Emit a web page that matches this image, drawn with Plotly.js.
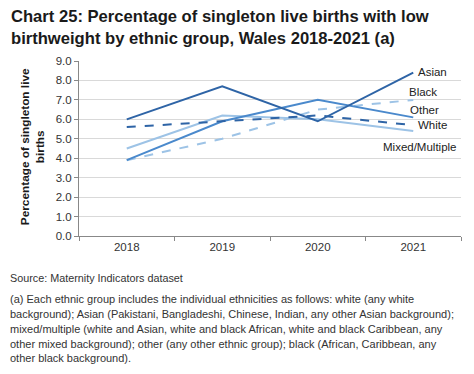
<!DOCTYPE html>
<html>
<head>
<meta charset="utf-8">
<script src="https://cdn.plot.ly/plotly-3.0.1.min.js"></script>
<style>
html,body{margin:0;padding:0;background:#fff;}
#chart{width:474px;height:374px;}
</style>
</head>
<body>
<div id="chart"></div>
<script>
const years = ["2018", "2019", "2020", "2021"];
const asian = [6.0, 7.7, 5.9, 8.4];
const other = [3.9, 5.9, 7.0, 6.1];
const mixed = [4.5, 6.2, 6.0, 5.4];
const white = [5.6, 5.9, 6.2, 5.7];
const black = [3.9, 5.0, 6.5, 7.0];
const yTicks = [0, 1, 2, 3, 4, 5, 6, 7, 8, 9];
const yTickText = yTicks.map(v => v.toFixed(1));

const FONT = "Liberation Sans, Arial, sans-serif";

const traces = [
  {name: "Mixed/Multiple", y: mixed, color: "#9DC3E6", dash: "solid"},
  {name: "Black", y: black, color: "#9DC3E6", dash: "dash"},
  {name: "Other", y: other, color: "#4A89CC", dash: "solid"},
  {name: "White", y: white, color: "#2E64A6", dash: "dash"},
  {name: "Asian", y: asian, color: "#2E64A6", dash: "solid"}
].map(s => ({
  type: "scatter", mode: "lines", name: s.name, x: years, y: s.y,
  line: {color: s.color, width: 2, dash: s.dash}, hoverinfo: "skip"
}));

const PT = 61, PB = 374 - 235.7, PH = 374 - PT - PB;
function py(p) { return (374 - PB - p) / PH; }
const PX0 = (8 - 79) / 382;

const labels = [
  {t: "Asian", x: 3.03, y: 8.43, xa: "left"},
  {t: "Black", x: 3.1, y: 7.4, xa: "center"},
  {t: "Other", x: 3.12, y: 6.47, xa: "center"},
  {t: "White", x: 3.2, y: 5.73, xa: "center"},
  {t: "Mixed/Multiple", x: 3.07, y: 4.6, xa: "center"}
];

const annotations = labels.map(l => ({
  text: l.t, x: l.x, y: l.y, xref: "x", yref: "y", xanchor: l.xa, yanchor: "middle",
  showarrow: false, font: {family: FONT, size: 11.5, color: "#222"}
}));

const titleLines = [
  "Chart 25: Percentage of singleton live births with low",
  "birthweight by ethnic group, Wales 2018-2021 (a)"
];
titleLines.forEach((t, i) => {
  annotations.push({
    text: "<b>" + t + "</b>", xref: "paper", yref: "paper",
    x: (9 - 79) / 382, y: py(17 + i * 22), xanchor: "left", yanchor: "middle", showarrow: false,
    font: {family: FONT, size: 16.6, color: "#1a1a1a"}
  });
});

annotations.push({
  text: "<b>Percentage of singleton live<br>births</b>", xref: "paper", yref: "paper",
  x: (32 - 79) / 382, y: py(147), xanchor: "center", yanchor: "middle", textangle: -90,
  showarrow: false, font: {family: FONT, size: 11.8, color: "#1a1a1a"}
});

const footLines = [
  "(a) Each ethnic group includes the individual ethnicities as follows: white (any white",
  "background); Asian (Pakistani, Bangladeshi, Chinese, Indian, any other Asian background);",
  "mixed/multiple (white and Asian, white and black African, white and black Caribbean, any",
  "other mixed background); other (any other ethnic group); black (African, Caribbean, any",
  "other black background)."
];
annotations.push({
  text: "Source: Maternity Indicators dataset", xref: "paper", yref: "paper",
  x: PX0, y: py(278), xanchor: "left", yanchor: "middle", showarrow: false,
  font: {family: FONT, size: 10.8, color: "#333"}
});
footLines.forEach((t, i) => {
  annotations.push({
    text: t, xref: "paper", yref: "paper",
    x: PX0, y: py(299 + i * 14.7), xanchor: "left", yanchor: "middle", showarrow: false,
    font: {family: FONT, size: 11, color: "#333"}
  });
});

const layout = {
  width: 474, height: 374,
  margin: {l: 79, r: 13, t: PT, b: PB},
  paper_bgcolor: "#fff", plot_bgcolor: "#fff",
  showlegend: false,
  font: {family: FONT, color: "#333"},
  xaxis: {
    type: "category", range: [-0.5, 3.5], fixedrange: true,
    showline: true, linecolor: "#888", linewidth: 1,
    ticks: "outside", tickson: "boundaries", ticklen: 4, tickcolor: "#888",
    showgrid: false, zeroline: false,
    tickfont: {family: FONT, size: 11.5, color: "#333"}
  },
  yaxis: {
    range: [0, 9], fixedrange: true,
    tickvals: yTicks, ticktext: yTickText,
    showline: true, linecolor: "#888", linewidth: 1,
    ticks: "outside", ticklen: 4, tickcolor: "#888",
    showgrid: true, gridcolor: "#D9D9D9", gridwidth: 1, zeroline: false,
    tickfont: {family: FONT, size: 11.5, color: "#333"}
  },
  annotations: annotations
};

Plotly.newPlot("chart", traces, layout, {displayModeBar: false, staticPlot: true});
</script>
</body>
</html>
